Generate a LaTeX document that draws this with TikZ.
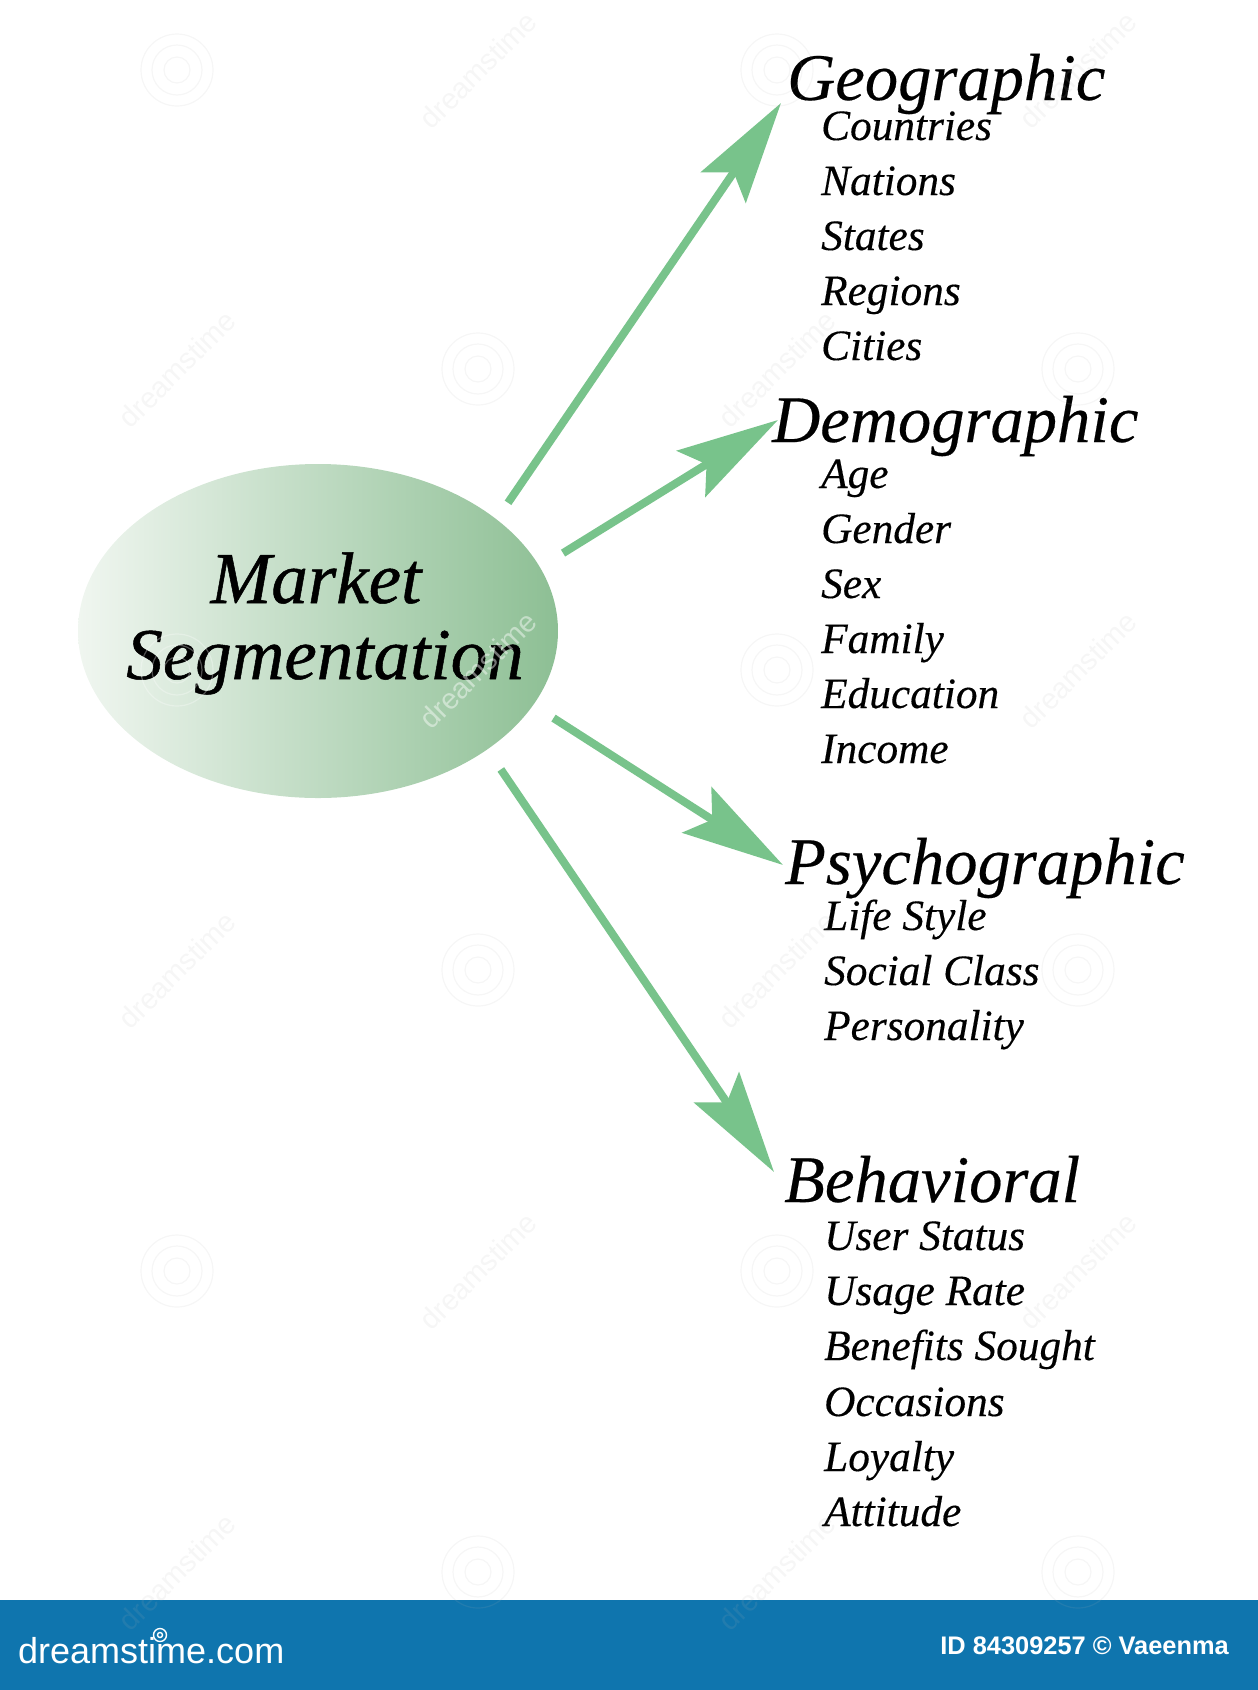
\documentclass[tikz,border=0pt]{standalone}
\usepackage{fontspec}
\setmainfont[ItalicFeatures={FakeBold=0.3}]{Liberation Serif}
\newfontfamily\titlefont[ItalicFeatures={FakeBold=0.7}]{Liberation Serif}
\newfontfamily\bannerfont{Liberation Sans}
\usetikzlibrary{arrows.meta,shapes.geometric}
\definecolor{arrowgreen}{HTML}{78C38B}
\definecolor{ovalleft}{HTML}{F0F6F0}
\definecolor{ovalright}{HTML}{8DBF94}
\definecolor{bannerblue}{HTML}{0F75AE}
\begin{document}
\begin{tikzpicture}[x=1pt,y=-1pt,
	heading/.style={anchor=base west,inner sep=0pt,font=\fontsize{66.6}{67}\selectfont\itshape},
	item/.style={anchor=base west,inner sep=0pt,font=\fontsize{43.3}{43}\selectfont\itshape},
	title/.style={anchor=base,inner sep=0pt,font=\titlefont\fontsize{73}{73}\selectfont\itshape},
	branch/.style={draw=arrowgreen,line width=8pt,-{Stealth[length=102pt,width=54pt,inset=18pt]}},
	markwm/.style={text=gray!60,draw=gray!60,opacity=0.12}]
	\useasboundingbox (0,0) rectangle (1258,1690);
	% banner
	\fill[bannerblue] (0,1600) rectangle (1258,1690);
	\path (18,1663) node[anchor=base west,inner sep=0pt,text=white,font=\bannerfont\fontsize{36}{36}\selectfont] (site) {dreamstime.com};
	\draw[white,line width=1.4pt] (160,1635) circle (6.5) (160,1635) circle (2.5);
	\path (1229,1654) node[anchor=base east,inner sep=0pt,text=white,font=\bannerfont\bfseries\fontsize{25.4}{25}\selectfont] (credit) {ID 84309257 © Vaeenma};
	% oval
	\path (318,631) node[ellipse,minimum width=480pt,minimum height=334pt,inner sep=0pt,left color=ovalleft,right color=ovalright] (market) {};
	\path (316,603) node[title] (marketword) {Market};
	\path (325,679) node[title] (segmentword) {Segmentation};
	% headings
	\path (787,100) node[heading] (geographic) {Geographic};
	\path (772,442) node[heading] (demographic) {Demographic};
	\path (785,884) node[heading] (psychographic) {Psychographic};
	\path (784,1202) node[heading] (behavioral) {Behavioral};
	% lists
	\path (821,140) node[item] (countries) {Countries};
	\path (821,195) node[item] (nations) {Nations};
	\path (821,250) node[item] (states) {States};
	\path (821,305) node[item] (regions) {Regions};
	\path (821,360) node[item] (cities) {Cities};
	\path (821,488) node[item] (age) {Age};
	\path (821,543) node[item] (gender) {Gender};
	\path (821,598) node[item] (sex) {Sex};
	\path (821,653) node[item] (family) {Family};
	\path (821,708) node[item] (education) {Education};
	\path (821,763) node[item] (income) {Income};
	\path (824,930) node[item] (lifestyle) {Life Style};
	\path (824,985) node[item] (socialclass) {Social Class};
	\path (824,1040) node[item] (personality) {Personality};
	\path (824,1250) node[item] (userstatus) {User Status};
	\path (824,1305) node[item] (usagerate) {Usage Rate};
	\path (824,1360) node[item] (benefits) {Benefits Sought};
	\path (824,1416) node[item] (occasions) {Occasions};
	\path (824,1471) node[item] (loyalty) {Loyalty};
	\path (824,1526) node[item] (attitude) {Attitude};
	% arrows
	\coordinate (geotip) at (781,103);
	\coordinate (demotip) at (778,420);
	\coordinate (psychotip) at (783,865);
	\coordinate (behavtip) at (774,1172);
	\draw[branch,shorten <=20pt] (market.32) -- (geotip);
	\draw[branch,shorten <=27pt] (market.16) -- (demotip);
	\draw[branch,shorten <=24pt] (market.-19) -- (psychotip);
	\draw[branch,shorten <=24pt] (market.-35) -- (behavtip);
	% stock marks
	\foreach \x/\y in {177/70,777/70,478/369,1078/369,777/670,478/970,1078/970,177/1271,777/1271,478/1572,1078/1572}
		\draw[markwm,line width=1.2pt] (\x,\y) circle (36) (\x,\y) circle (25) (\x,\y) circle (13);
	\foreach \x/\y in {478/70,1078/70,177/369,777/369,1078/670,177/970,777/970,478/1271,1078/1271,177/1572,777/1572}
		\path (\x,\y) node[markwm,draw=none,rotate=45,font=\fontsize{29}{29}\selectfont\bannerfont] (mark\x-\y) {dreamstime};
	\draw[white,opacity=0.3,line width=1.2pt] (177,670) circle (36) (177,670) circle (25) (177,670) circle (13);
	\path (478,670) node[text=white,opacity=0.45,rotate=45,font=\fontsize{29}{29}\selectfont\bannerfont] (markoval) {dreamstime};
\end{tikzpicture}
\end{document}
